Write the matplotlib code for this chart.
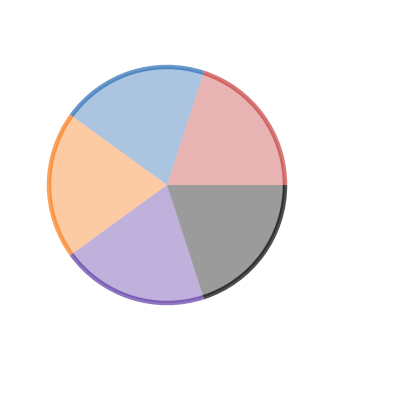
import matplotlib
matplotlib.use('Agg')
import matplotlib.pyplot as plt
from matplotlib.patches import Arc

# five equal slices, counter-clockwise from 3 o'clock
sizes = [1, 1, 1, 1, 1]
colors = ['#c54341', '#2d6eb6', '#fa7d1b', '#613ea7', '#050505']

fig = plt.figure(figsize=(4, 4), dpi=100)
ax = fig.add_axes([0.0635, 0.1835, 0.708, 0.708])

wedges, _ = ax.pie(sizes, colors=colors, startangle=0, counterclock=True,
                   radius=1, wedgeprops=dict(linewidth=0, alpha=0.4))

# outer arcs drawn separately so they overlap at the joins
for w, c in zip(wedges, colors):
    arc = Arc((0, 0), 2, 2, theta1=w.theta1, theta2=w.theta2,
              color=c, linewidth=3.2, alpha=0.7)
    ax.add_patch(arc)

ax.set_xlim(-1.2, 1.2)
ax.set_ylim(-1.2, 1.2)
ax.set_aspect('equal')
ax.axis('off')

fig.savefig('out.png', dpi=100)
